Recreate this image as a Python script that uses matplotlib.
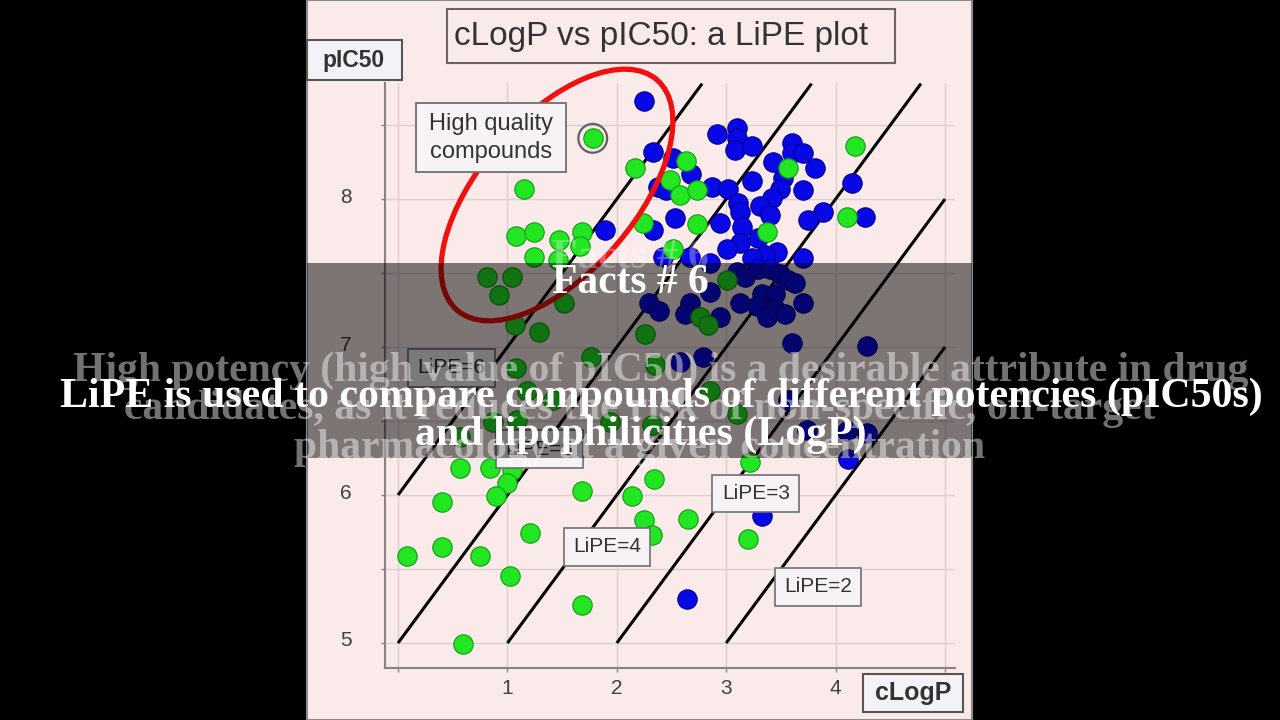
import matplotlib
matplotlib.use('Agg')
import matplotlib.pyplot as plt
from matplotlib.patches import Rectangle, Ellipse
from matplotlib.transforms import ScaledTranslation

# ---------------- data ----------------
green_x = [1.78, 1.15, 1.08, 1.24, 1.47, 1.68, 1.66, 1.24, 1.46, 2.17, 2.24, 2.63, 2.49, 2.58, 2.73, 2.73,
           2.51, 3.56, 4.18, 4.10, 3.37, 3.01, 2.76, 2.83, 2.26, 2.35, 2.85, 3.10, 2.32, 3.22, 2.34, 0.81,
           1.04, 0.92, 1.52, 1.07, 1.29, 1.76, 1.08, 1.18, 1.42, 0.87, 1.09, 0.57, 1.94, 0.57, 0.84, 1.04,
           1.00, 0.90, 0.40, 1.68, 2.14, 2.25, 2.32, 2.65, 1.21, 0.40, 0.08, 0.75, 1.02, 1.68, 0.59, 3.20]
green_y = [8.41, 8.07, 7.75, 7.78, 7.72, 7.78, 7.68, 7.61, 7.59, 8.21, 7.84, 8.26, 8.13, 8.03, 8.06, 7.83,
           7.66, 8.21, 8.36, 7.88, 7.78, 7.45, 7.20, 7.15, 7.09, 6.88, 6.70, 6.55, 6.47, 6.22, 6.11, 7.47,
           7.47, 7.35, 7.30, 7.15, 7.10, 6.93, 6.86, 6.70, 6.64, 6.49, 6.51, 6.39, 6.49, 6.18, 6.18, 6.17,
           6.08, 5.99, 5.95, 6.03, 5.99, 5.83, 5.73, 5.84, 5.74, 5.65, 5.59, 5.59, 5.45, 5.26, 4.99, 5.70]

blue_x = [2.25, 2.33, 2.51, 2.68, 2.38, 2.45, 2.87, 3.02, 2.53, 2.94, 1.89, 2.33, 2.42, 2.67, 2.92, 3.10,
          3.10, 3.08, 3.24, 3.60, 3.60, 3.70, 3.81, 3.43, 4.15, 3.24, 3.52, 3.70, 3.49, 3.11, 3.42, 3.31,
          3.40, 3.13, 3.88, 3.75, 4.27, 3.14, 3.29, 3.13, 3.01, 3.46, 3.35, 3.24, 3.70, 2.85, 3.10, 3.17,
          3.29, 3.40, 3.49, 3.56, 3.63, 2.85, 3.33, 3.45, 2.29, 2.39, 2.67, 2.62, 2.94, 3.13, 3.28, 3.45,
          3.54, 3.70, 3.37, 3.60, 4.29, 2.58, 2.79, 3.56, 3.74, 4.10, 4.29, 4.11, 3.33, 2.64]
blue_y = [8.66, 8.32, 8.28, 8.17, 8.08, 8.06, 8.08, 8.07, 7.87, 7.84, 7.79, 7.79, 7.61, 7.61, 8.44, 8.48,
          8.41, 8.33, 8.36, 8.38, 8.31, 8.31, 8.21, 8.25, 8.11, 8.12, 8.14, 8.06, 8.07, 7.97, 8.01, 7.95,
          7.89, 7.91, 7.91, 7.86, 7.88, 7.81, 7.74, 7.70, 7.66, 7.64, 7.62, 7.60, 7.60, 7.57, 7.51, 7.47,
          7.53, 7.53, 7.49, 7.45, 7.43, 7.37, 7.36, 7.36, 7.30, 7.24, 7.30, 7.22, 7.20, 7.30, 7.28, 7.26,
          7.22, 7.30, 7.20, 7.03, 7.01, 6.90, 6.93, 6.64, 6.44, 6.43, 6.42, 6.24, 5.86, 5.30]

highlight_x = [1.78]
highlight_y = [8.41]

lipe_values = [6, 5, 4, 3, 2]
lipe_start_x = [0.0, 0.0, 1.0, 2.0, 3.0]
lipe_end_x = [2.78, 3.78, 4.78, 5.0, 5.0]

label_lipe = [6, 5, 4, 3, 2]
label_x = [0.49, 1.29, 1.91, 3.27, 3.84]
label_y = [6.86, 6.31, 5.65, 6.01, 5.38]

x_ticks = [0, 1, 2, 3, 4, 5]
x_ticklabels = ['', '1', '2', '3', '4', '']
y_ticks = [5, 6, 7, 8]
y_ticklabels = ['5', '6', '7', '8']
y_minor = [5.5, 6.5, 7.5, 8.5]

title_text = 'cLogP vs pIC50: a LiPE plot'
ylabel_text = 'pIC50'
xlabel_text = 'cLogP'
note_text = 'High quality\ncompounds'
facts_text = 'Facts # 6'
ghost_lines = ['High potency (high value of pIC50) is a desirable attribute in drug',
               'candidates, as it reduces the risk of non-specific, off-target',
               'pharmacology at a given concentration']
main_lines = ['LiPE is used to compare compounds of different potencies (pIC50s)',
              'and lipophilicities (LogP)']

# ---------------- figure ----------------
plt.rcParams['font.family'] = ['Liberation Sans', 'DejaVu Sans']
W, H = 1280, 720
fig = plt.figure(figsize=(12.8, 7.2), dpi=100, facecolor='black')

def fr(x0, y0, x1, y1):
    return [x0 / W, 1 - y1 / H, (x1 - x0) / W, (y1 - y0) / H]

PINK = '#fbeaea'

bg = fig.add_axes([0, 0, 1, 1], zorder=0)
bg.set_xlim(0, W); bg.set_ylim(H, 0); bg.axis('off')
bg.add_patch(Rectangle((307, 0), 665, 720, fc=PINK, ec='#8c8c8c', lw=1.5))

ax = fig.add_axes(fr(385, 83, 955, 668), zorder=1)
ax.set_facecolor(PINK)
ax.set_xlim(-0.119, 5.091)
ax.set_ylim(4.831, 8.784)
ax.set_axisbelow(True)
ax.set_xticks(x_ticks)
ax.set_xticklabels(x_ticklabels)
ax.set_yticks(y_ticks)
ax.set_yticklabels(y_ticklabels)
ax.set_yticks(y_minor, minor=True)
ax.grid(True, which='both', color='#dccfcf', lw=1.0)
for s in ['top', 'right']:
    ax.spines[s].set_visible(False)
for s in ['left', 'bottom']:
    ax.spines[s].set_color('#8a8282')
    ax.spines[s].set_linewidth(1.5)
ax.tick_params(axis='both', which='both', direction='out', length=3, color='#8a8282', width=1)
ax.tick_params(axis='y', pad=21, labelsize=15, labelcolor='#404040')
ax.tick_params(axis='x', pad=5, labelsize=15, labelcolor='#404040')
for lab in ax.get_yticklabels():
    lab.set_transform(lab.get_transform() + ScaledTranslation(0, 4 / 100, fig.dpi_scale_trans))

for L, sx, ex in zip(lipe_values, lipe_start_x, lipe_end_x):
    ax.plot([sx, ex], [sx + L, ex + L], color='black', lw=2.2, zorder=2, solid_capstyle='butt')

ax.scatter(blue_x, blue_y, s=195, c='#0808e6', edgecolors='#00008a', linewidths=0.8, zorder=3)
ax.scatter(green_x, green_y, s=195, c='#22e622', edgecolors='#129a12', linewidths=0.8, zorder=3)
ax.scatter(highlight_x, highlight_y, s=430, facecolors='none', edgecolors='#606060', linewidths=1.6, zorder=3)

for L, lx, ly in zip(label_lipe, label_x, label_y):
    ax.text(lx, ly, f'LiPE={L}', ha='center', va='center', fontsize=15, color='#333333', zorder=4,
            bbox=dict(boxstyle='square,pad=0.45', fc='#f7f3f5', ec='#707070', lw=1.2))

# ---------------- overlay ----------------
ov = fig.add_axes([0, 0, 1, 1], zorder=2)
ov.set_xlim(0, W); ov.set_ylim(H, 0); ov.axis('off')
ov.patch.set_alpha(0)

ov.add_patch(Ellipse((557, 195), width=305, height=155, angle=-49, fill=False, ec='#f01010', lw=3.8, zorder=1))

ov.add_patch(Rectangle((416, 103), 150, 69, fc='#f7f3f5', ec='#707070', lw=1.3, zorder=2))
ov.text(491, 138, note_text, ha='center', va='center', fontsize=17, color='#333333',
        linespacing=1.3, zorder=3)

ov.add_patch(Rectangle((447, 9), 448, 54, fc=PINK, ec='#666666', lw=1.5, zorder=2))
ov.text(661, 37, title_text, ha='center', va='center', fontsize=24, color='#333333', zorder=3)

ov.add_patch(Rectangle((307, 40), 95, 40, fc='#f3f2f6', ec='#555555', lw=1.5, zorder=2))
ov.text(354, 60, ylabel_text, ha='center', va='center', fontsize=16.5, fontweight='bold',
        color='#333333', zorder=3)

ov.add_patch(Rectangle((863, 674), 100, 38, fc='#f3f2f6', ec='#555555', lw=1.5, zorder=2))
ov.text(913, 693, xlabel_text, ha='center', va='center', fontsize=18, fontweight='bold',
        color='#333333', zorder=3)

# caption band
ov.add_patch(Rectangle((307, 263), 665, 195, fc='black', alpha=0.5, ec='none', zorder=5))

serif = ['Liberation Serif', 'DejaVu Serif']
ov.text(630, 268, facts_text, ha='center', va='baseline', fontsize=30, fontweight='bold',
        family=serif, color='white', alpha=0.3, zorder=6)
ov.text(630, 293, facts_text, ha='center', va='baseline', fontsize=30, fontweight='bold',
        family=serif, color='white', zorder=7)

for (gx, gy), line in zip([(661, 381), (640, 419), (640, 458)], ghost_lines):
    ov.text(gx, gy, line, ha='center', va='baseline', fontsize=30, fontweight='bold',
            family=serif, color='white', alpha=0.45, zorder=6)
for (mx, my), line in zip([(661, 407), (641, 445)], main_lines):
    ov.text(mx, my, line, ha='center', va='baseline', fontsize=30.2, fontweight='bold',
            family=serif, color='white', zorder=7)

fig.savefig('out.png', dpi=100, facecolor='black')
